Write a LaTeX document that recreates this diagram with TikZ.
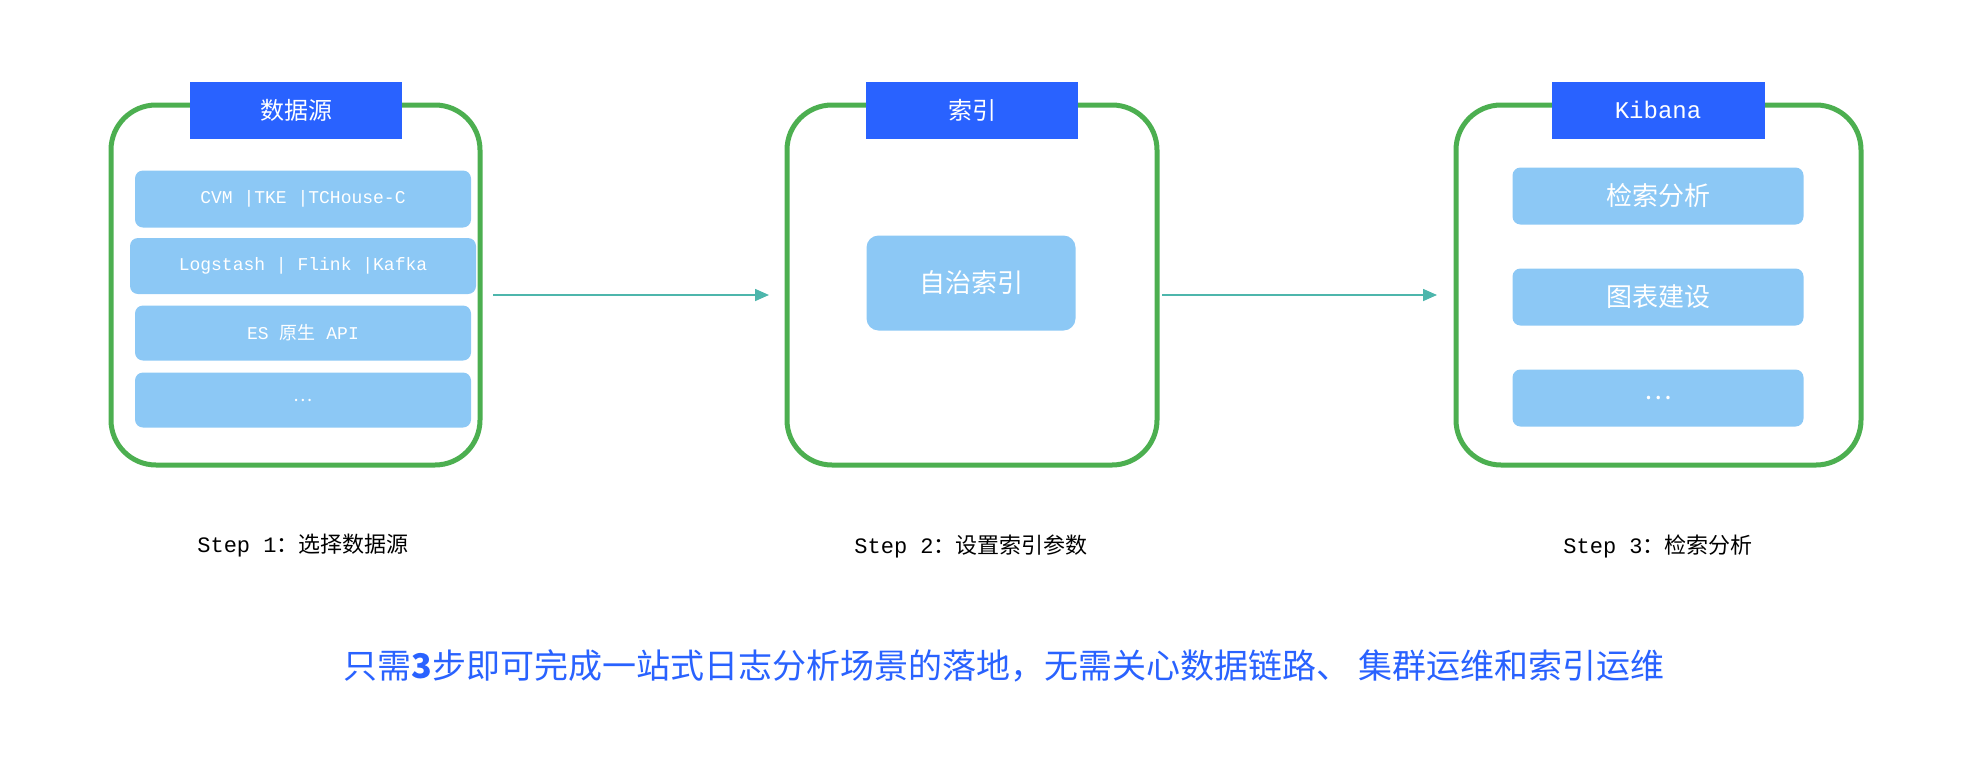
\documentclass[tikz,border=0pt]{standalone}
\usepackage{fontspec}
\setmainfont{Liberation Mono}
\newfontfamily\cjk{Noto Sans CJK SC}
\usetikzlibrary{arrows.meta}
\definecolor{grn}{HTML}{4CAF50}
\definecolor{hdr}{HTML}{2962FF}
\definecolor{itm}{HTML}{8CC8F5}
\definecolor{arr}{HTML}{4DB6AC}
\definecolor{btxt}{HTML}{2962FF}
\begin{document}
\begin{tikzpicture}[x=1pt,y=-1pt,
 outer/.style={draw=grn,line width=5pt,rounded corners=45pt},
 hbox/.style={fill=hdr,text=white,font=\fontsize{24}{28}\selectfont},
 ibox/.style={fill=itm,rounded corners=8pt,text=white,font=\fontsize{18}{22}\selectfont},
 conn/.style={draw=arr,line width=1.6pt,-{Triangle[length=14pt,width=12pt]}},
 steplab/.style={font=\fontsize{22}{26}\selectfont}]
\useasboundingbox (0,0) rectangle (1982,756);
% boxes
\draw[outer] (111,105) rectangle (480,465);
\draw[outer] (787,105) rectangle (1157,465);
\draw[outer] (1456,105) rectangle (1861,465);
\node[hbox,minimum width=212pt,minimum height=57pt] (h1) at (296,110) {\cjk 数据源};
\node[hbox,minimum width=212pt,minimum height=57pt] (h2) at (972,110) {\cjk 索引};
\node[hbox,minimum width=213pt,minimum height=57pt] (h3) at (1658,110) {Kibana};
% items box1
\node[ibox,minimum width=336pt,minimum height=57pt] (a1) at (303,199) {CVM |TKE |TCHouse-C};
\node[ibox,minimum width=346pt,minimum height=56pt] (a2) at (303,266) {Logstash | Flink |Kafka};
\node[ibox,minimum width=336pt,minimum height=55pt] (a3) at (303,333) {ES {\cjk 原生} API};
\node[ibox,minimum width=336pt,minimum height=55pt] (a4) at (303,400) {\cjk …};
% box2
\node[ibox,minimum width=209pt,minimum height=95pt,rounded corners=12pt,font=\cjk\fontsize{26}{30}\selectfont] (b1) at (971,283) {自治索引};
% box3
\node[ibox,minimum width=291pt,minimum height=57pt,font=\cjk\fontsize{26}{30}\selectfont] (c1) at (1658,196) {检索分析};
\node[ibox,minimum width=291pt,minimum height=57pt,font=\cjk\fontsize{26}{30}\selectfont] (c2) at (1658,297) {图表建设};
\node[ibox,minimum width=291pt,minimum height=57pt,font=\cjk\fontsize{26}{30}\selectfont] (c3) at (1658,398) {…};
% arrows
\coordinate (p1) at (493,295); \coordinate (p2) at (769,295);
\coordinate (q1) at (1162,295); \coordinate (q2) at (1437,295);
\draw[conn] (p1) -- (p2);
\draw[conn] (q1) -- (q2);
% step labels
\node[steplab] (s1) at (303,546) {Step 1{\cjk ：选择数据源}};
\node[steplab] (s2) at (971,546) {Step 2{\cjk ：设置索引参数}};
\node[steplab] (s3) at (1658,546) {Step 3{\cjk ：检索分析}};
\node[text=btxt,font=\cjk\fontsize{34}{40}\selectfont] (bt) at (1004,666) {只需\textbf{3}步即可完成一站式日志分析场景的落地，无需关心数据链路、 集群运维和索引运维};
\end{tikzpicture}
\end{document}
